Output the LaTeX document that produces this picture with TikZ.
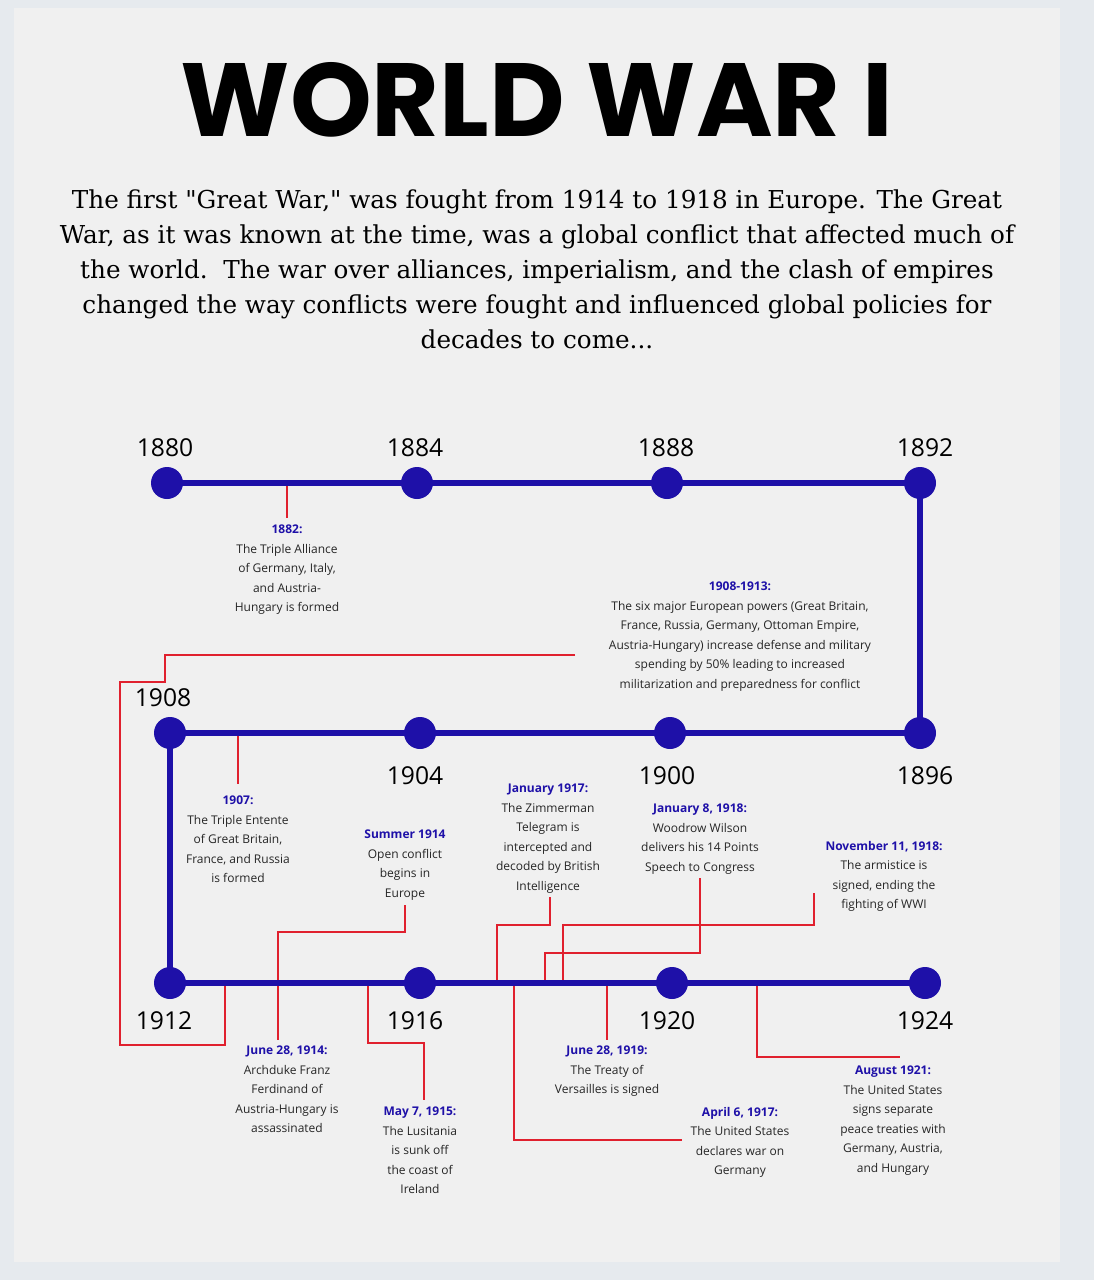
\documentclass[tikz,border=0pt]{standalone}
\usepackage{fontspec}
\setmainfont{DejaVu Serif}
\newfontfamily\introf{DejaVu Serif}
\newfontfamily\titlef{Poppins}[UprightFont=*-Bold]
\newfontfamily\osf{Open Sans}
\definecolor{tlblue}{HTML}{1E10A8}
\definecolor{tlred}{HTML}{E0202E}
\definecolor{paper}{HTML}{F0F0F0}
\definecolor{outer}{HTML}{E6EAEE}
\newcommand\dt[1]{\textcolor{tlblue}{\bfseries #1}}
\begin{document}
\begin{tikzpicture}[x=0.75pt,y=-0.75pt,
  tl/.style={line width=4.5pt,draw=tlblue},
  dot/.style={circle,fill=tlblue,minimum size=24pt,inner sep=0pt},
  yr/.style={font=\osf\fontsize{18.5}{20}\selectfont},
  con/.style={draw=tlred,line width=1.5pt},
  ev/.style={font=\osf\fontsize{9}{14.6}\selectfont,align=center,anchor=north,inner sep=0pt,text=black!85}]
\useasboundingbox (0,0) rectangle (1094,1280);
\fill[outer] (0,0) rectangle (1094,1280);
\fill[paper] (14,8) rectangle (1060,1262);
\node (title) at (537,100) {\titlef\fontsize{78}{86}\selectfont WORLD WAR I};
\node[align=center,font=\introf\fontsize{18.5}{26.2}\selectfont] (intro) at (537,269) {The first "Great War," was fought from 1914 to 1918 in Europe. The Great\\War, as it was known at the time, was a global conflict that affected much of\\the world.\ \ The war over alliances, imperialism, and the clash of empires\\changed the way conflicts were fought and influenced global policies for\\decades to come...};
% events
\node[ev] (e1882) at (287,525) {\dt{1882:}\\The Triple Alliance\\of Germany, Italy,\\and Austria-\\Hungary is formed};
\node[ev] (e1908) at (740,582) {\dt{1908-1913:}\\The six major European powers (Great Britain,\\France, Russia, Germany, Ottoman Empire,\\Austria-Hungary) increase defense and military\\spending by 50\% leading to increased\\militarization and preparedness for conflict};
\node[ev] (e1907) at (238,796) {\dt{1907:}\\The Triple Entente\\of Great Britain,\\France, and Russia\\is formed};
\node[ev] (esum) at (405,830) {\dt{Summer 1914}\\Open conflict\\begins in\\Europe};
\node[ev] (ejun14) at (287,1046) {\dt{June 28, 1914:}\\Archduke Franz\\Ferdinand of\\Austria-Hungary is\\assassinated};
\node[ev] (emay15) at (420,1107) {\dt{May 7, 1915:}\\The Lusitania\\is sunk off\\the coast of\\Ireland};
\node[ev] (ejan17) at (548,784) {\dt{January 1917:}\\The Zimmerman\\Telegram is\\intercepted and\\decoded by British\\Intelligence};
\node[ev] (eapr17) at (740,1107) {\dt{April 6, 1917:}\\The United States\\declares war on\\Germany};
\node[ev] (ejan18) at (700,804) {\dt{January 8, 1918:}\\Woodrow Wilson\\delivers his 14 Points\\Speech to Congress};
\node[ev] (enov18) at (884,841) {\dt{November 11, 1918:}\\The armistice is\\signed, ending the\\fighting of WWI};
\node[ev] (ejun19) at (607,1046) {\dt{June 28, 1919:}\\The Treaty of\\Versailles is signed};
\node[ev] (eaug21) at (893,1066) {\dt{August 1921:}\\The United States\\signs separate\\peace treaties with\\Germany, Austria,\\and Hungary};
% connectors
\draw[con] (287,486) -- (287,518);
\draw[con] (575,655) -- (165,655) -- (165,682) -- (120,682) -- (120,1045) -- (225,1045) -- (225,986);
\draw[con] (238,736) -- (238,784);
\draw[con] (405,905) -- (405,932) -- (278,932) -- (278,1040);
\draw[con] (368,986) -- (368,1043) -- (424,1043) -- (424,1100);
\draw[con] (550,897) -- (550,925) -- (497,925) -- (497,980);
\draw[con] (514,986) -- (514,1140) -- (682,1140);
\draw[con] (700,878) -- (700,953) -- (545,953) -- (545,980);
\draw[con] (814,893) -- (814,925) -- (563,925) -- (563,980);
\draw[con] (607,986) -- (607,1040);
\draw[con] (757,986) -- (757,1057) -- (900,1057);
% timeline
\coordinate (p1880) at (167,483); \coordinate (p1884) at (417,483);
\coordinate (p1888) at (667,483); \coordinate (p1892) at (920,483);
\coordinate (p1896) at (920,733); \coordinate (p1900) at (670,733);
\coordinate (p1904) at (420,733); \coordinate (p1908) at (170,733);
\coordinate (p1912) at (170,983); \coordinate (p1916) at (420,983);
\coordinate (p1920) at (672,983); \coordinate (p1924) at (925,983);
\draw[tl] (p1880) -- (p1892) -- (p1896) -- (p1908) -- (p1912) -- (p1924);
\foreach \n in {1880,1884,1888,1892,1896,1900,1904,1908,1912,1916,1920,1924}{\node[dot] (d\n) at (p\n) {};}
% years
\node[yr] at (165,448) {1880}; \node[yr] at (415,448) {1884};
\node[yr] at (666,448) {1888}; \node[yr] at (925,448) {1892};
\node[yr] at (163,698) {1908}; \node[yr] at (415,776) {1904};
\node[yr] at (667,776) {1900}; \node[yr] at (925,776) {1896};
\node[yr] at (164,1021) {1912}; \node[yr] at (415,1021) {1916};
\node[yr] at (667,1021) {1920}; \node[yr] at (925,1021) {1924};
\end{tikzpicture}
\end{document}
